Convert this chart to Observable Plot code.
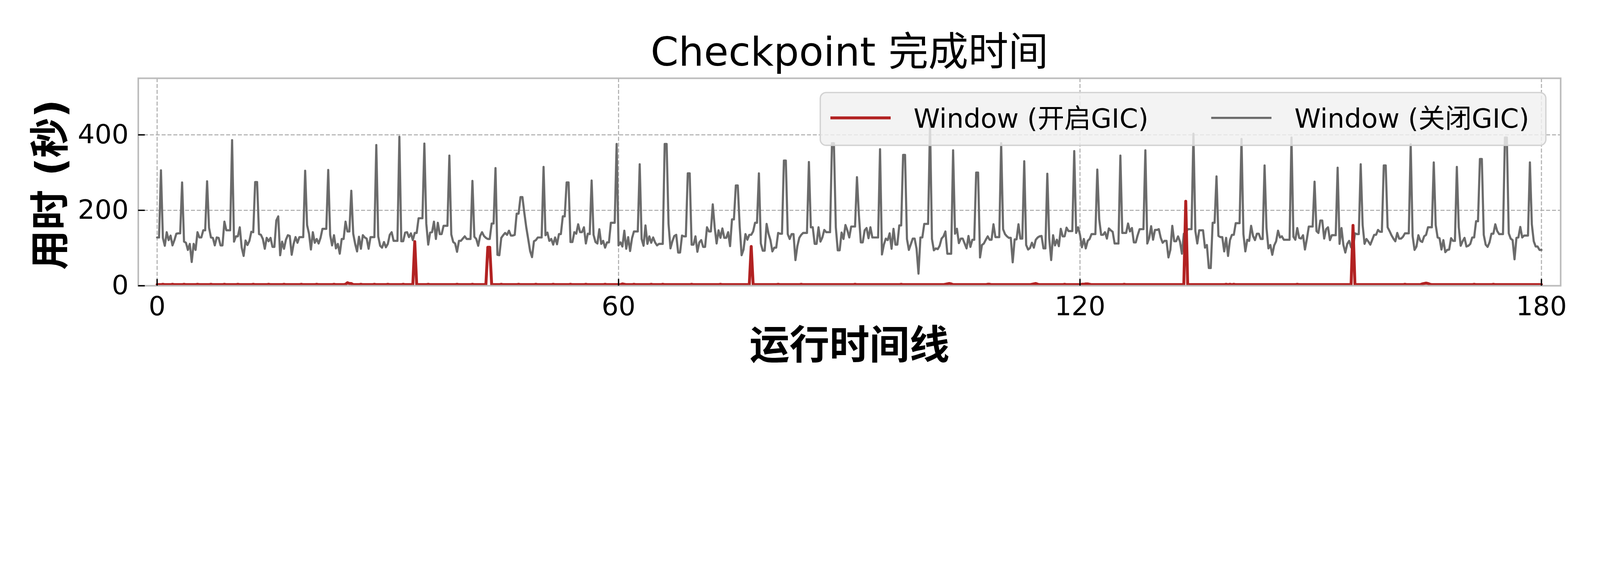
<!DOCTYPE html>
<html><head><meta charset="utf-8">
<script src="https://cdn.jsdelivr.net/npm/d3@7"></script>
<script src="https://cdn.jsdelivr.net/npm/@observablehq/plot@0.6"></script>
<style>html,body{margin:0;padding:0;background:#fff;}</style>
</head><body><div id="chart"></div>
<script>
const title = "Checkpoint 完成时间";
const xLabel = "运行时间线";
const yLabel = "用时 (秒)";
const seriesNames = ["Window (开启GIC)", "Window (关闭GIC)"];
const seriesColors = ["#b22222", "#6b6b6b"];
const sampleStep = 0.25; // minutes between samples
const xTicks = [0, 60, 120, 180];
const yTicks = [0, 200, 400];

// Window (开启GIC)
const gicOn = [
3,3,3,4,3,3,3,3,4,3,3,3,3,3,4,3,3,3,3,3,
3,4,3,3,3,3,3,3,4,3,3,3,3,3,3,4,3,3,3,3,
3,3,4,3,3,3,3,3,3,3,4,3,3,3,3,3,3,3,4,3,
3,3,3,3,3,3,4,3,3,3,3,3,3,3,3,4,3,3,3,3,
3,3,3,4,3,3,3,3,3,3,3,3,4,3,3,3,3,3,4,8,
6,6,3,3,3,3,4,3,3,3,3,3,3,4,3,3,3,3,3,3,
4,3,3,3,3,3,3,3,4,3,3,3,3,3,117,3,3,3,3,3,
3,4,3,3,3,3,3,3,3,3,3,3,3,3,3,3,4,3,3,3,
3,3,3,3,4,3,3,3,3,3,3,3,102,102,3,3,3,3,3,4,
3,3,3,3,3,3,3,3,4,3,3,3,3,3,3,3,3,4,3,3,
3,3,3,3,3,3,4,3,3,3,3,3,3,3,3,4,3,3,3,3,
3,3,3,4,3,3,3,3,3,3,3,3,3,4,3,3,3,3,3,3,
3,3,5,4,3,3,3,3,4,3,3,3,3,3,3,3,3,4,3,3,
3,3,3,4,3,3,3,3,3,3,3,3,3,3,3,3,3,3,4,3,
3,3,3,3,3,3,3,3,3,3,3,3,3,4,3,3,3,3,3,3,
3,3,3,3,3,3,3,3,3,104,3,3,3,3,3,3,3,3,3,3,
3,3,3,4,3,3,3,3,3,3,3,3,3,3,3,4,3,3,3,3,
3,3,3,3,3,3,3,3,3,3,3,3,3,3,3,3,3,3,3,3,
3,3,3,4,3,3,3,3,3,3,3,3,3,3,3,3,3,3,3,3,
3,3,3,3,3,3,3,4,3,3,3,3,3,3,3,3,3,3,3,3,
3,3,3,3,3,3,3,3,3,3,4,5,6,5,3,3,3,3,3,3,
3,3,3,3,3,3,3,3,3,3,3,3,4,4,3,3,3,3,3,3,
3,3,3,3,3,3,3,3,3,3,3,3,3,3,3,4,5,6,4,3,
3,3,3,3,3,3,3,3,3,3,3,3,4,3,3,3,3,3,3,3,
3,4,4,5,5,4,3,3,3,3,3,3,3,3,3,3,3,3,3,3,
3,3,3,4,3,3,3,3,3,3,3,3,3,3,3,3,3,3,3,3,
3,3,3,3,3,3,3,3,3,3,3,3,3,3,3,224,3,3,3,3,
3,3,3,3,3,3,3,3,3,3,3,3,3,3,3,3,4,3,4,3,
4,3,3,3,3,3,3,3,3,3,3,3,3,3,3,3,3,3,3,3,
3,3,3,3,3,3,3,3,3,3,3,3,3,4,3,3,3,3,3,3,
3,3,3,3,3,3,3,3,3,3,3,3,3,3,3,3,3,3,3,3,
3,3,160,3,3,3,3,3,3,3,3,3,3,3,3,3,3,3,3,3,
3,3,3,3,3,3,3,3,3,4,3,3,3,3,3,3,3,3,5,6,
7,6,4,3,3,3,3,3,3,3,3,3,3,3,3,3,3,3,3,3,
3,3,3,3,3,4,3,3,3,3,3,3,3,3,3,4,3,3,3,3,
3,3,3,3,3,3,3,3,3,3,3,3,3,3,3,3,3,3,3,3,3
];

// Window (关闭GIC)
const gicOff = [
128,128,306,127,106,142,121,133,107,121,138,139,139,274,117,114,95,111,63,111,
95,142,128,128,147,147,277,154,128,127,107,128,127,107,107,170,147,147,147,386,
117,131,131,155,101,79,120,108,119,143,142,275,275,137,135,124,98,127,118,127,
103,103,173,184,81,117,98,122,134,132,82,111,129,114,129,129,129,305,161,138,
96,142,114,124,112,127,151,151,151,307,135,107,134,99,111,85,124,124,170,144,
144,252,138,111,91,130,98,134,128,125,98,129,129,129,373,131,106,101,116,102,
111,135,142,119,119,119,395,118,118,141,142,129,139,121,140,140,179,179,179,377,
165,109,141,142,170,124,167,137,137,159,159,159,345,136,116,112,90,119,119,125,
131,124,124,124,278,130,124,106,132,142,132,127,124,124,165,165,312,82,81,127,
134,140,135,146,133,133,135,191,191,235,235,193,155,124,92,76,118,121,128,128,
128,315,134,141,119,124,109,128,110,137,137,184,184,274,274,116,116,142,138,163,
142,142,155,112,138,137,279,135,116,112,150,111,119,101,115,115,167,167,167,376,
107,115,104,146,98,129,92,126,144,144,144,322,124,106,160,111,131,114,128,115,
107,111,111,111,376,376,164,99,118,132,135,88,88,133,131,131,298,298,109,109,
131,90,115,121,103,103,155,144,144,216,155,112,147,127,152,127,127,142,105,176,
176,266,266,158,81,96,137,122,135,135,144,167,167,298,112,93,93,164,138,121,
91,101,101,140,138,138,332,332,137,124,137,137,68,105,127,135,140,140,140,328,
155,155,111,111,155,117,128,148,142,142,142,378,378,155,94,94,141,124,161,147,
128,157,157,157,288,188,115,115,147,153,126,155,128,128,128,128,362,83,109,125,
121,139,98,151,109,109,160,160,347,347,124,95,110,125,125,98,32,128,128,164,
164,164,430,124,94,99,97,106,125,131,144,85,85,85,359,138,151,113,125,125,
112,99,132,103,122,122,300,300,75,108,112,122,131,122,122,163,129,129,129,378,
150,137,131,127,127,62,123,123,163,125,125,330,108,96,100,114,101,122,128,131,
132,99,99,297,125,68,134,107,122,105,151,131,131,154,145,145,145,357,140,155,
135,102,124,99,119,124,137,137,137,308,176,135,135,142,125,152,147,143,112,112,
112,345,140,140,140,165,144,153,115,115,134,150,150,150,359,112,127,158,122,148,
148,150,127,114,119,119,75,95,159,118,118,131,117,85,138,138,150,150,150,403,
145,112,147,147,147,101,108,47,47,167,167,290,132,129,129,91,127,79,121,135,
135,166,166,166,389,137,91,122,119,159,132,121,138,138,124,124,319,153,99,108,
82,107,118,146,128,131,122,122,122,122,393,130,122,153,127,125,134,96,124,157,
157,157,276,145,140,173,173,125,150,155,121,134,134,134,313,111,153,108,88,111,
119,102,96,139,137,137,322,161,111,124,117,109,122,135,135,148,143,143,319,319,
155,145,134,125,118,140,125,125,130,139,139,139,375,132,95,104,134,119,116,131,
135,155,155,155,327,161,128,126,96,121,89,95,96,126,119,119,315,155,106,118,
127,104,106,111,128,128,171,171,336,336,135,109,103,115,138,138,163,145,137,137,
137,393,393,139,125,121,70,127,128,156,128,133,133,133,327,163,118,104,104,95,95
];

const onRows = gicOn.map((v, i) => ({t: i * sampleStep, v}));
const offRows = gicOff.map((v, i) => ({t: i * sampleStep, v}));

const W = 6000, H = 1500;
const mL = 518, mR = 148, mT = 293, mB = 429;
const frameW = W - mL - mR, frameH = H - mT - mB;
const FONT = "'DejaVu Sans', 'Noto Sans CJK SC', sans-serif";

function legendMark() {
  const g = d3.create("svg:g");
  const bx = 3076, by = 347, bw = 2721, bh = 198;
  g.append("rect").attr("x", bx).attr("y", by).attr("width", bw).attr("height", bh)
    .attr("rx", 22).attr("fill", "#f0f0f0").attr("fill-opacity", 0.82)
    .attr("stroke", "#d2d2d2").attr("stroke-width", 5);
  const items = [
    {x: bx + 38, name: seriesNames[0], color: seriesColors[0], w: 11},
    {x: bx + 1466, name: seriesNames[1], color: seriesColors[1], w: 8}
  ];
  for (const it of items) {
    g.append("line").attr("x1", it.x).attr("x2", it.x + 226)
      .attr("y1", by + 95).attr("y2", by + 95)
      .attr("stroke", it.color).attr("stroke-width", it.w);
    g.append("text").attr("x", it.x + 312).attr("y", by + 132)
      .attr("text-anchor", "start")
      .attr("font-family", FONT).attr("font-size", 100).attr("fill", "#000")
      .text(it.name);
  }
  return g.node();
}

const chart = Plot.plot({
  width: W, height: H,
  marginLeft: mL, marginRight: mR, marginTop: mT, marginBottom: mB,
  style: {fontFamily: FONT, fontSize: "100px", background: "#fff", color: "#000", overflow: "visible"},
  x: {domain: [-2.45, 182.5]},
  y: {domain: [0, 550]},
  marks: [
    Plot.gridX({ticks: xTicks, stroke: "#b0b0b0", strokeOpacity: 1, strokeWidth: 4, strokeDasharray: "15,7"}),
    Plot.gridY({ticks: yTicks, stroke: "#b0b0b0", strokeOpacity: 1, strokeWidth: 4, strokeDasharray: "15,7"}),
    Plot.line(offRows, {x: "t", y: "v", stroke: seriesColors[1], strokeWidth: 8, clip: true}),
    Plot.line(onRows, {x: "t", y: "v", stroke: seriesColors[0], strokeWidth: 11, clip: true}),
    Plot.frame({stroke: "#bcbcbc", strokeWidth: 6}),
    Plot.tickX(xTicks, {x: d => d, stroke: "#000", strokeWidth: 5, insetTop: frameH - 25}),
    Plot.tickY(yTicks, {y: d => d, stroke: "#000", strokeWidth: 5, insetRight: frameW - 25}),
    Plot.axisX({ticks: xTicks, tickSize: 0, tickPadding: 39, fontSize: 100, label: null}),
    Plot.axisY({ticks: yTicks, tickSize: 0, tickPadding: 36, fontSize: 100, label: null}),
    Plot.text([title], {text: d => d, frameAnchor: "top", textAnchor: "middle", lineAnchor: "bottom", dy: -48, fontSize: 150, fill: "#000"}),
    Plot.text([xLabel], {text: d => d, frameAnchor: "bottom", textAnchor: "middle", lineAnchor: "bottom", dy: 274, fontSize: 150, fontWeight: "bold", fill: "#000"}),
    Plot.text([yLabel], {text: d => d, frameAnchor: "left", textAnchor: "middle", lineAnchor: "middle", rotate: -90, dx: -327, dy: 10, fontSize: 150, fontWeight: "bold", fill: "#000"}),
    legendMark
  ]
});
document.getElementById("chart").appendChild(chart);
</script>
</body></html>
